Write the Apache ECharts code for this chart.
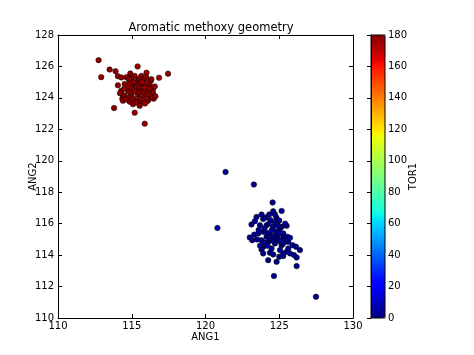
<!DOCTYPE html>
<html>
<head>
<meta charset="utf-8">
<script src="https://cdn.jsdelivr.net/npm/echarts@6/dist/echarts.min.js"></script>
<style>html,body{margin:0;padding:0;background:#fff}#c{width:474px;height:355px}</style>
</head>
<body>
<div id="c"></div>
<script>
// ---- Data ----
// Upper-left cluster (TOR1 near 180)
var upperAng1 = [112.75,112.93,113.5,113.9,115.4,114.06,113.8,115.2,115.88,117.46,116.85,116.28,116.49,116.44,114.06,114.4,114.36,114.63,116.0,114.9,
  114.29,115.2,115.65,115.99,116.33,114.86,115.42,114.52,115.08,115.76,116.22,116.56,114.29,114.74,115.31,115.65,116.1,116.44,114.52,114.97,115.42,115.88,116.33,114.4,114.86,115.31,115.65,116.1,115.54,115.08,
  115.0,115.5,115.8,114.9,115.3,115.6,116.0,114.7,115.0,115.5,115.9,116.2,114.5,114.9,115.2,115.5,115.8,116.1,114.7,115.1,115.6,116.0,115.3,115.9,114.6,116.6,114.2,115.7,115.15,114.8];
var upperAng2 = [126.4,125.32,125.8,125.7,126.0,125.38,123.35,123.06,122.36,125.54,125.28,125.07,123.95,124.58,124.8,124.16,123.95,125.32,125.6,125.55,
  125.3,125.4,125.4,125.3,125.19,125.09,125.09,124.88,124.81,124.88,124.77,124.73,124.46,124.46,124.56,124.46,124.46,124.35,124.14,124.14,124.18,124.14,124.03,123.82,123.76,123.82,123.76,123.82,123.5,123.6,
  125.25,125.2,125.1,124.9,124.95,124.9,124.95,124.7,124.6,124.7,124.65,124.6,124.6,124.35,124.4,124.35,124.3,124.2,124.0,123.95,123.95,123.95,123.7,123.65,123.9,124.1,124.3,125.0,125.0,125.2];
var upperTor1 = [178,176,179,177,175,178,179,176,177,178,174,179,177,178,176,179,178,175,177,179,
  178,176,179,177,178,175,179,177,176,178,179,177,178,176,175,179,178,177,179,176,178,177,179,176,178,177,175,179,178,176,
  177,179,178,176,178,179,177,175,178,179,176,178,177,179,176,178,179,177,176,178,179,177,178,176,179,178,177,176,179,178];

// Lower-right cluster (TOR1 near 0)
var lowerAng1 = [121.36,123.28,127.49,124.64,126.18,126.18,124.25,124.82,120.81,123.0,123.17,126.4,123.8,124.37,125.27,
  124.55,124.59,125.16,123.8,124.32,123.46,123.35,123.91,124.41,123.12,123.69,124.14,124.59,125.05,125.5,123.3,123.91,124.37,124.82,125.27,123.8,124.25,124.71,125.16,125.61,123.91,124.48,123.91,124.59,125.5,125.05,124.14,123.57,
  125.16,125.27,125.55,125.73,125.27,125.91,126.14,125.61,125.27,125.73,126.0,125.0,
  124.3,124.7,124.9,124.5,124.0,124.8,124.2,124.6,125.0,124.4,124.9,124.0,124.6,125.0,124.2,123.6,123.5,124.8,125.4,124.1,123.7,125.3,124.7,125.0];
var lowerAng2 = [119.29,118.49,111.35,112.67,113.3,113.85,113.68,113.57,115.73,115.12,114.95,114.32,114.36,114.15,113.94,
  117.35,116.79,116.81,116.58,116.58,116.43,116.16,116.29,116.22,115.95,115.9,115.9,115.8,115.69,115.86,115.3,115.48,115.38,115.27,115.16,114.95,114.84,114.74,114.63,114.84,114.53,114.42,114.11,114.04,114.21,114.32,115.16,115.38,
  115.8,115.38,115.16,115.1,114.74,114.63,114.53,114.42,114.11,114.11,114.0,113.9,
  116.0,116.1,115.9,115.6,115.7,115.5,115.4,115.2,115.4,115.0,115.05,114.8,114.9,114.9,114.6,115.6,115.0,116.4,116.0,116.4,114.6,114.9,116.6,116.2];
var lowerTor1 = [3,2,1,4,2,3,1,2,5,3,2,1,4,2,3,
  2,1,3,4,2,1,3,2,5,1,2,3,4,2,1,3,2,4,1,2,3,5,2,1,3,2,4,1,2,3,2,1,4,
  2,3,1,4,2,3,1,2,4,2,3,1,
  2,3,1,4,2,1,3,2,4,1,3,2,1,2,4,3,1,2,3,1,2,4,3,2];

var xTicks = {min:110, max:130, interval:5};
var yTicks = {min:110, max:128, interval:2};
var cbTicks = {min:0, max:180, interval:20};

// ---- build ----
function zip(a,b,c){var r=[];for(var i=0;i<a.length;i++)r.push([a[i],b[i],c[i]]);return r;}
var pts = zip(upperAng1,upperAng2,upperTor1).concat(zip(lowerAng1,lowerAng2,lowerTor1));

// matplotlib "jet" colormap
function seg(x, pts){for(var i=1;i<pts.length;i++){if(x<=pts[i][0]){var a=pts[i-1],b=pts[i];return a[1]+(b[1]-a[1])*(x-a[0])/(b[0]-a[0]);}}return pts[pts.length-1][1];}
function jet(x){
  var r=seg(x,[[0,0],[0.35,0],[0.66,1],[0.89,1],[1,0.5]]);
  var g=seg(x,[[0,0],[0.125,0],[0.375,1],[0.64,1],[0.91,0],[1,0]]);
  var b=seg(x,[[0,0.5],[0.11,1],[0.34,1],[0.65,0],[1,0]]);
  return 'rgb('+Math.round(r*255)+','+Math.round(g*255)+','+Math.round(b*255)+')';
}
var jetColors=[];for(var k=0;k<=100;k++)jetColors.push(jet(k/100));

var FONT='DejaVu Sans';
var tickStyle={show:true,inside:true,length:4,lineStyle:{color:'#000',width:1}};
var lineStyle={show:true,lineStyle:{color:'#000',width:1}};

var chart=echarts.init(document.getElementById('c'),null,{renderer:'canvas'});
chart.setOption({
  animation:false,
  backgroundColor:'#fff',
  title:{text:'Aromatic methoxy geometry',left:206,textAlign:'center',top:17,
    textStyle:{fontFamily:FONT,fontSize:11.5,fontWeight:'normal',color:'#000'}},
  grid:[
    {left:58,top:35,width:295,height:283,show:false},
    {left:371,top:35,width:14,height:283,show:true,borderColor:'#000',borderWidth:1,backgroundColor:'transparent',z:10}
  ],
  xAxis:[
    {gridIndex:0,type:'value',min:xTicks.min,max:xTicks.max,interval:xTicks.interval,position:'bottom',
      axisLine:lineStyle,axisTick:tickStyle,splitLine:{show:false},
      axisLabel:{fontFamily:FONT,fontSize:10,color:'#000',margin:3},
      name:'ANG1',nameLocation:'middle',nameGap:14,nameMoveOverlap:false,nameTextStyle:{fontFamily:FONT,fontSize:10,color:'#000'}},
    {gridIndex:0,type:'value',min:xTicks.min,max:xTicks.max,interval:xTicks.interval,position:'top',
      axisLine:lineStyle,axisTick:tickStyle,splitLine:{show:false},axisLabel:{show:false}},
    {gridIndex:1,type:'value',min:0,max:1,show:false}
  ],
  yAxis:[
    {gridIndex:0,type:'value',min:yTicks.min,max:yTicks.max,interval:yTicks.interval,position:'left',
      axisLine:lineStyle,axisTick:tickStyle,splitLine:{show:false},
      axisLabel:{fontFamily:FONT,fontSize:10,color:'#000',margin:4},
      name:'ANG2',nameLocation:'middle',nameGap:20,nameMoveOverlap:false,nameTextStyle:{fontFamily:FONT,fontSize:10,color:'#000'}},
    {gridIndex:0,type:'value',min:yTicks.min,max:yTicks.max,interval:yTicks.interval,position:'right',
      axisLine:lineStyle,axisTick:tickStyle,splitLine:{show:false},axisLabel:{show:false}},
    {gridIndex:1,type:'value',min:cbTicks.min,max:cbTicks.max,interval:cbTicks.interval,position:'right',z:10,
      axisLine:lineStyle,axisTick:tickStyle,splitLine:{show:false},
      axisLabel:{fontFamily:FONT,fontSize:10,color:'#000',margin:3},
      name:'TOR1',nameLocation:'middle',nameGap:23,nameRotate:90,nameMoveOverlap:false,nameTextStyle:{fontFamily:FONT,fontSize:10,color:'#000'}}
  ],
  visualMap:{type:'continuous',min:cbTicks.min,max:cbTicks.max,dimension:2,seriesIndex:0,
    calculable:false,show:true,orient:'vertical',left:371,top:35,itemWidth:14,itemHeight:283,
    padding:0,text:null,hoverLink:false,inRange:{color:jetColors}},
  series:[
    {type:'scatter',xAxisIndex:0,yAxisIndex:0,data:pts,symbolSize:5.5,
      itemStyle:{borderColor:'#000',borderWidth:0.5,opacity:1}},
    {type:'scatter',xAxisIndex:2,yAxisIndex:2,data:[]}
  ]
});
</script>
</body>
</html>
